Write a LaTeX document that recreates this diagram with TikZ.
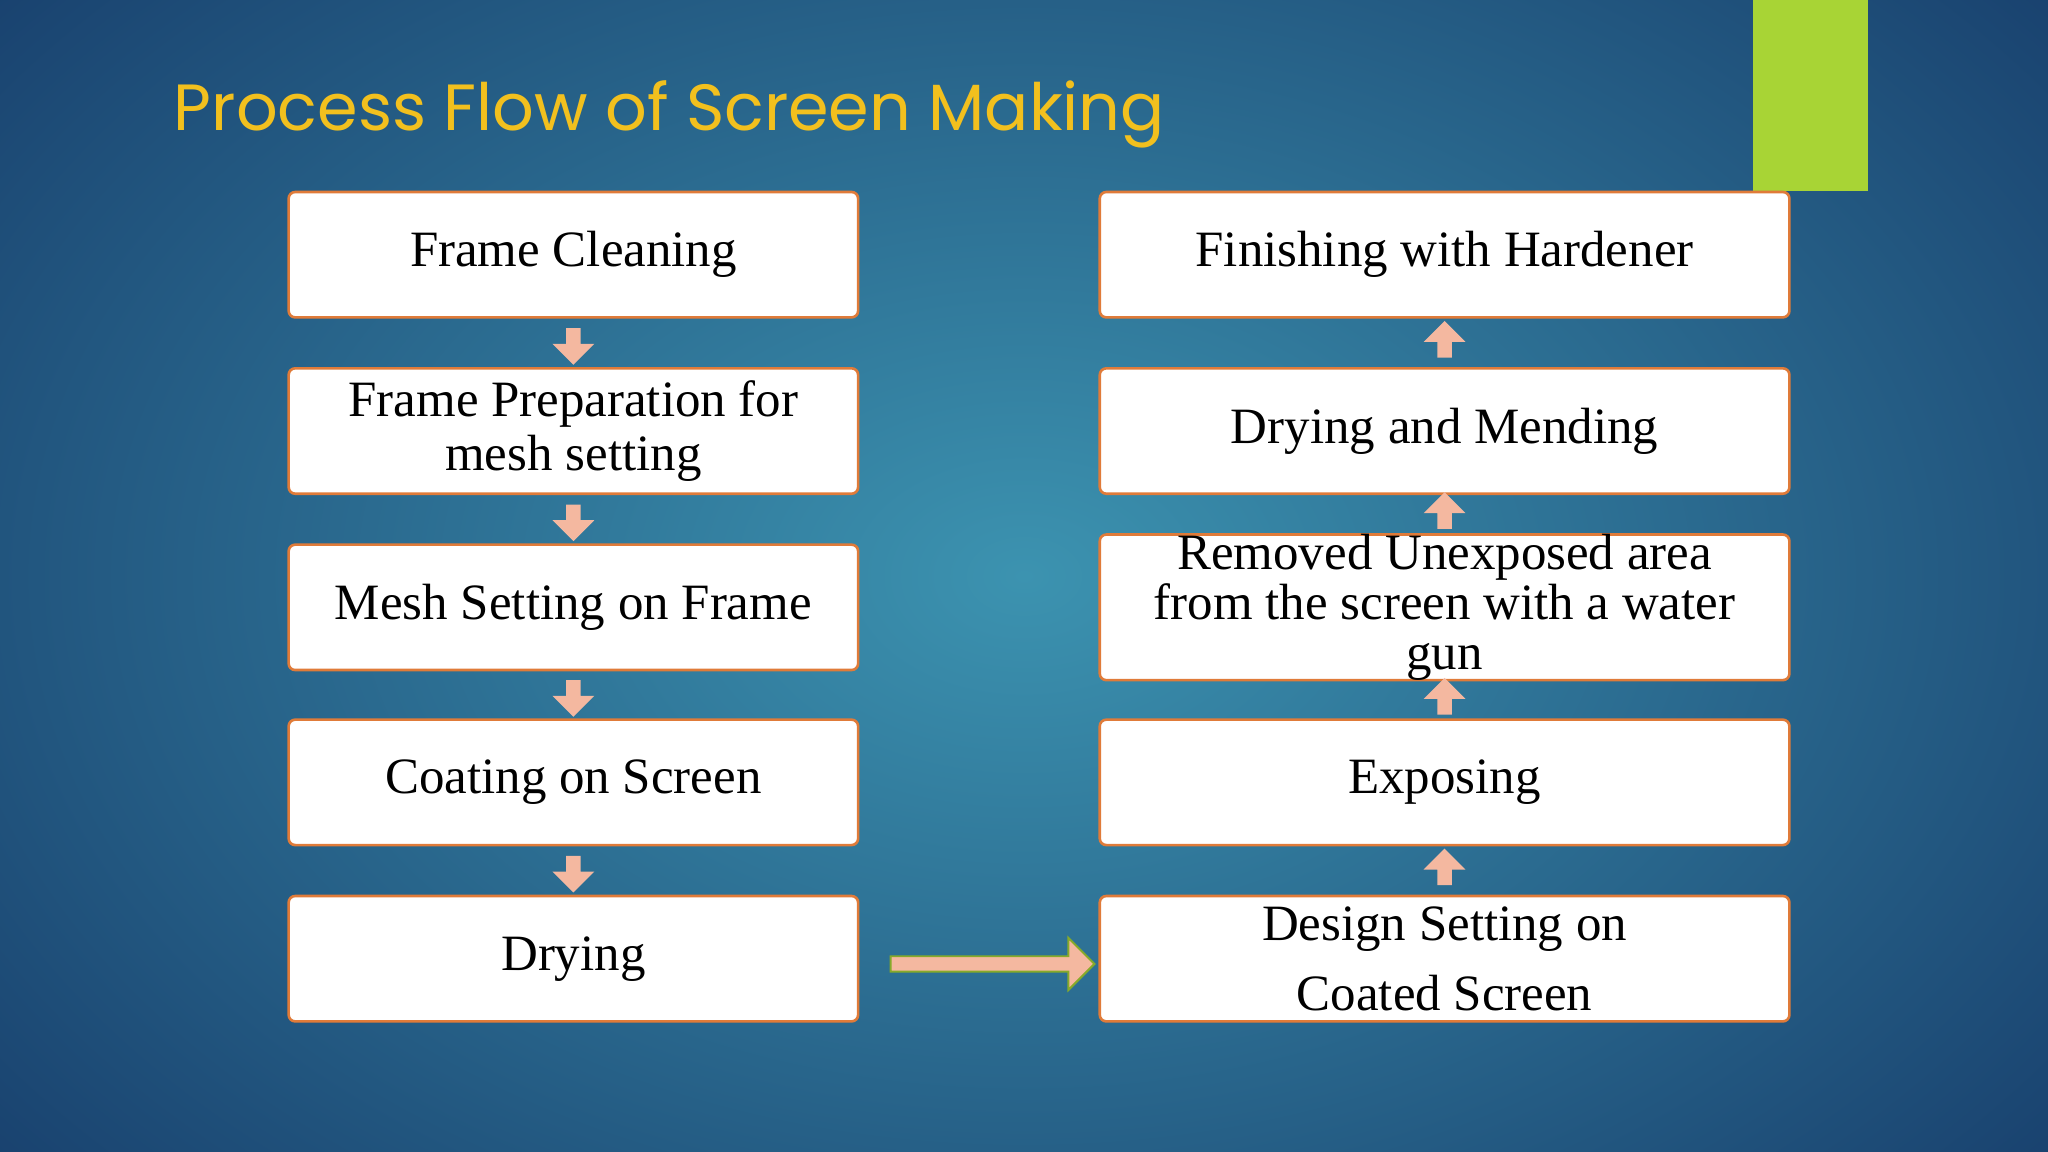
\documentclass[tikz,border=0pt]{standalone}
\usepackage{fontspec}
\setmainfont{Liberation Serif}
\newfontfamily\titlefont{Poppins}
\usetikzlibrary{shapes.arrows,calc}
\definecolor{bgc}{HTML}{3C93B0}
\definecolor{bge}{HTML}{173D6B}
\definecolor{boxline}{HTML}{E07B39}
\definecolor{arr}{HTML}{F4B8A0}
\definecolor{grn}{HTML}{A8D435}
\definecolor{ttl}{HTML}{F2C01E}
\begin{document}
\begin{tikzpicture}[x=1pt,y=-1pt,
  stepbox/.style={draw=boxline,line width=2pt,fill=white,rounded corners=5pt,minimum height=96pt,align=center,font=\fontsize{39}{44}\selectfont,inner sep=0pt},
  leftbox/.style={stepbox,minimum width=436pt},
  rightbox/.style={stepbox,minimum width=528pt},
  smallarr/.style={single arrow,draw=none,fill=arr,minimum height=28pt,minimum width=32pt,single arrow head extend=6pt,inner sep=3pt}]
\useasboundingbox (0,0) rectangle (1568,882);
\shade[inner color=bgc,outer color=bge] (-300,-300) rectangle (1868,1182);
\fill[grn] (1342,0) rectangle (1430,146);
\node[anchor=base west,text=ttl,font=\titlefont\fontsize{50}{56}\selectfont,inner sep=0pt] (title) at (133,100) {Process Flow of Screen Making};
\node[leftbox] (l1) at (439,195) {Frame Cleaning};
\node[leftbox] (l2) at (439,330) {Frame Preparation for\\[-2pt]mesh setting};
\node[leftbox] (l3) at (439,465) {Mesh Setting on Frame};
\node[leftbox] (l4) at (439,599) {Coating on Screen};
\node[leftbox] (l5) at (439,734) {Drying};
\node[rightbox] (r1) at (1106,195) {Finishing with Hardener};
\node[rightbox] (r2) at (1106,330) {Drying and Mending};
\node[rightbox] (r3) at (1106,465) {Removed Unexposed area\\[-6pt]from the screen with a water\\[-6pt]gun};
\node[rightbox] (r4) at (1106,599) {Exposing};
\node[rightbox] (r5) at (1106,734) {Design Setting on\\[10pt]Coated Screen};
\foreach \a/\b in {l1/l2,l2/l3,l3/l4,l4/l5}
  \node[smallarr,rotate=-90] (a\a) at ($(\a.south)!0.5!(\b.north)$) {};
\foreach \a/\b in {r5/r4,r4/r3,r3/r2,r2/r1}
  \node[smallarr,rotate=90] (a\a) at ($(\a.north)!0.5!(\b.south)$) {};
\node[single arrow,draw=grn!80!black,line width=1.5pt,fill=arr,minimum height=156pt,minimum width=40pt,single arrow head extend=9pt,inner sep=3pt,anchor=east] (big) at ([xshift=-2pt,yshift=-4pt]r5.west) {};
\end{tikzpicture}
\end{document}
